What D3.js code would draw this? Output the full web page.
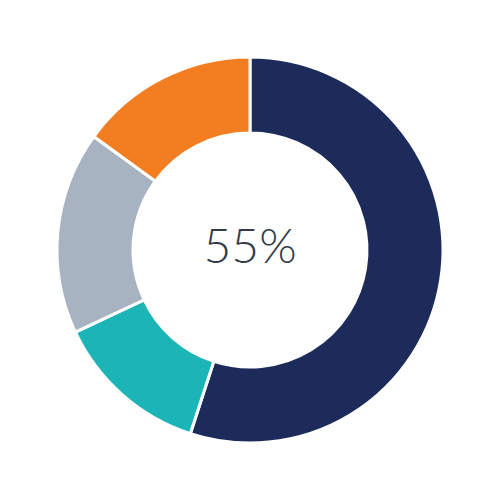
<!DOCTYPE html>
<html><head><meta charset="utf-8">
<script src="https://cdn.jsdelivr.net/npm/d3@7"></script>
<style>html,body{margin:0;padding:0;background:#fff;}</style>
</head><body>
<svg id="chart" width="500" height="500"></svg>
<script>
const categories = ["A", "B", "C", "D"];
const values = [55, 13, 17, 15];
const colors = ["#1c2b5a", "#1bb5b8", "#a8b3c2", "#f37e22"];
const centerLabel = "55%";

const svg = d3.select("#chart");
const g = svg.append("g").attr("transform", "translate(250,250)");
const pie = d3.pie().sort(null).value(d => d.v);
const arc = d3.arc().innerRadius(117).outerRadius(193);
const data = categories.map((c, i) => ({c, v: values[i], col: colors[i]}));
g.selectAll("path").data(pie(data)).join("path")
  .attr("d", arc)
  .attr("fill", d => d.data.col)
  .attr("stroke", "#fff")
  .attr("stroke-width", 3);
g.append("text").attr("text-anchor", "middle").attr("y", 13)
  .attr("font-family", "Lato").attr("font-weight", 300)
  .attr("font-size", 48).attr("fill", "#333b47")
  .text(centerLabel);
</script>
</body></html>
